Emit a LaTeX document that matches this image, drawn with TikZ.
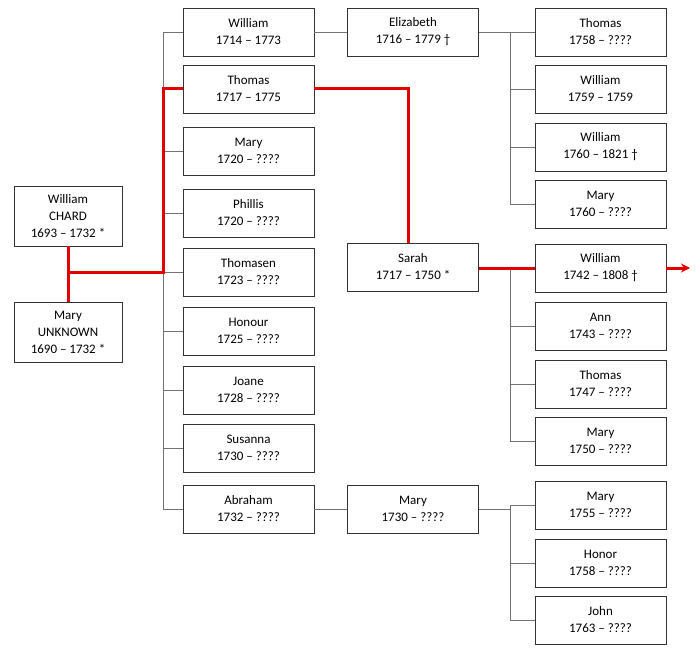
\documentclass[tikz,border=0pt]{standalone}
\usepackage{fontspec}
\setmainfont{Carlito}
\usetikzlibrary{arrows.meta}
\begin{document}
\begin{tikzpicture}[x=1pt,y=-1pt,
 box/.style={draw=black!80,line width=0.6pt,fill=white,minimum width=131pt,minimum height=48pt,align=center,font=\fontsize{13}{17}\selectfont,inner sep=0pt},
 sbox/.style={box,minimum width=108pt,minimum height=60pt},
 gl/.style={draw=black!55,line width=0.7pt},
 rl/.style={draw=red!90!black,line width=3pt}]
\useasboundingbox (0,0) rectangle (698,652);
\node[sbox] (wc) at (68,216) {William\\CHARD\\1693 – 1732 *};
\node[sbox] (mu) at (68,332) {Mary\\UNKNOWN\\1690 – 1732 *};
\foreach \n/\t/\d/\y in {c1/William/1714 – 1773/32, c2/Thomas/1717 – 1775/89, c3/Mary/1720 – ????/151, c4/Phillis/1720 – ????/213, c5/Thomasen/1723 – ????/272, c6/Honour/1725 – ????/331, c7/Joane/1728 – ????/390, c8/Susanna/1730 – ????/448, c9/Abraham/1732 – ????/509}
 \node[box] (\n) at (248.5,\y) {\t\\\d};
\node[box] (el) at (413,32) {Elizabeth\\1716 – 1779 †};
\node[box] (sa) at (413,267) {Sarah\\1717 – 1750 *};
\node[box] (ma) at (413,509) {Mary\\1730 – ????};
\foreach \n/\t/\d/\y in {g1/Thomas/1758 – ????/32, g2/William/1759 – 1759/89, g3/William/1760 – 1821 †/147, g4/Mary/1760 – ????/204, g5/William/1742 – 1808 †/268, g6/Ann/1743 – ????/326, g7/Thomas/1747 – ????/384, g8/Mary/1750 – ????/441, g9/Mary/1755 – ????/505, g10/Honor/1758 – ????/563, g11/John/1763 – ????/620}
 \node[box] (\n) at (600.5,\y) {\t\\\d};
\coordinate (t) at (163,272);
\draw[gl] (163,32) -- (163,509);
\foreach \n in {c1,c3,c4,c5,c6,c7,c8,c9} \draw[gl] (163,0|-\n.west) -- (\n.west);
\draw[gl] (c1.east) -- (el.west);
\draw[gl] (c9.east) -- (ma.west);
\draw[gl] (el.east) -- (510,32);
\draw[gl] (510,32) -- (510,204);
\foreach \n in {g1,g2,g3,g4} \draw[gl] (510,0|-\n.west) -- (\n.west);
\draw[gl] (510,268) -- (510,441);
\foreach \n in {g6,g7,g8} \draw[gl] (510,0|-\n.west) -- (\n.west);
\draw[gl] (ma.east) -- (510,509);
\draw[gl] (510,505) -- (510,620);
\foreach \n in {g9,g10,g11} \draw[gl] (510,0|-\n.west) -- (\n.west);
\draw[rl] (wc.south) -- (mu.north);
\draw[rl] (68,272) -- (t) -- (163,0|-c2.west) -- (c2.west);
\draw[rl] (c2.east) -- (408,0|-c2.east) -- (408,0|-sa.north);
\draw[rl] (sa.east|-g5.west) -- (g5.west);
\coordinate (ar) at (690,268);
\draw[rl,-{Stealth[length=9pt,width=9pt]}] (g5.east) -- (ar);
\end{tikzpicture}
\end{document}
